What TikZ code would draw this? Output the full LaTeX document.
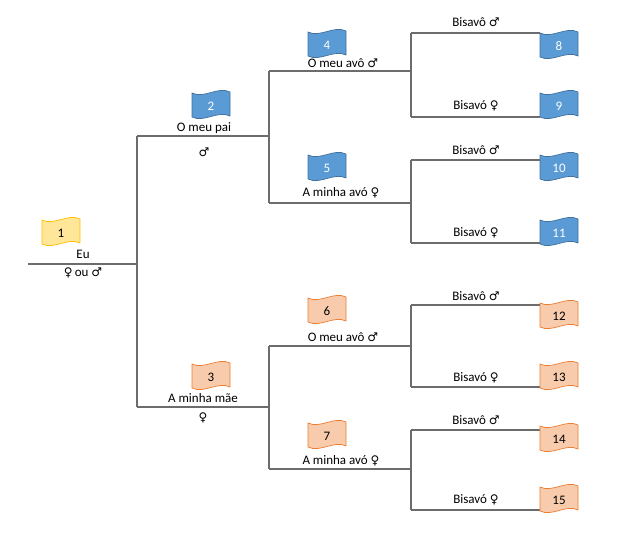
\documentclass[tikz,border=0pt]{standalone}
\usepackage{fontspec}
\setmainfont{Carlito}
\newfontfamily\symf{DejaVu Sans}
\newcommand\ma{{\symf\fontsize{12}{14}\selectfont ♂}}
\newcommand\fe{{\symf\fontsize{12}{14}\selectfont ♀}}
\definecolor{bl}{HTML}{5B9BD5}\definecolor{bld}{HTML}{41719C}
\definecolor{orf}{HTML}{F8CBAD}\definecolor{ord}{HTML}{ED7D31}
\definecolor{ylf}{HTML}{FFE699}\definecolor{yld}{HTML}{FFC000}
\tikzset{line/.style={draw=gray!85!black,line width=1.3pt},
 lab/.style={font=\fontsize{13}{15}\selectfont,inner sep=1pt},
 blue flag/.style={fill=bl,draw=bld,text=white},
 orange flag/.style={fill=orf,draw=ord,text=black},
 yellow flag/.style={fill=ylf,draw=yld,text=black}}
\newcommand\flag[4]{% name, pos, style, text
 \path[#3,line width=0.7pt] #2 ++(-19,-13) .. controls +(12,6) and +(-12,-6) .. ++(38,-1)
   -- ++(0,24) .. controls +(-12,-6) and +(12,6) .. ++(-38,1) -- cycle;
 \node[#3,draw=none,fill=none,font=\fontsize{13}{15}\selectfont] (#1) at #2 {#4};}
\begin{document}
\begin{tikzpicture}[x=1pt,y=-1pt]
\useasboundingbox (0,0) rectangle (627,533);
\coordinate (e0) at (28,264); \coordinate (e1) at (137,264);
\coordinate (pa) at (137,136); \coordinate (pb) at (269,136);
\coordinate (ma) at (137,407); \coordinate (mb) at (269,407);
\draw[line] (e0) -- (e1); \draw[line] (pa) -- (ma);
\draw[line] (pa) -- (pb); \draw[line] (ma) -- (mb);
\foreach \ya/\yb/\yc/\n in {71/33/117/a,203/160/243/b,346/305/387/c,469/430/510/d}{
 \coordinate (g\n) at (269,\ya); \coordinate (h\n) at (411,\ya);
 \coordinate (t\n) at (411,\yb); \coordinate (u\n) at (411,\yc);
 \coordinate (tt\n) at (540,\yb); \coordinate (uu\n) at (540,\yc);
 \draw[line] (g\n) -- (h\n); \draw[line] (t\n) -- (u\n);
 \draw[line] (t\n) -- (tt\n); \draw[line] (u\n) -- (uu\n);}
\draw[line] (269,71) -- (269,203);
\draw[line] (269,346) -- (269,469);
\flag{f1}{(61,233)}{yellow flag}{1}
\flag{f2}{(211,106)}{blue flag}{2}
\flag{f3}{(211,377)}{orange flag}{3}
\flag{f4}{(327,45)}{blue flag}{4}
\flag{f5}{(327,168)}{blue flag}{5}
\flag{f6}{(327,311)}{orange flag}{6}
\flag{f7}{(327,436)}{orange flag}{7}
\flag{f8}{(559,46)}{blue flag}{8}
\flag{f9}{(559,106)}{blue flag}{9}
\flag{f10}{(559,168)}{blue flag}{10}
\flag{f11}{(559,233)}{blue flag}{11}
\flag{f12}{(559,316)}{orange flag}{12}
\flag{f13}{(559,377)}{orange flag}{13}
\flag{f14}{(559,439)}{orange flag}{14}
\flag{f15}{(559,500)}{orange flag}{15}
\node[lab] (l1) at (83,254) {Eu};
\node[lab] (l1b) at (83,273) {\fe\,ou \ma};
\node[lab] (l2) at (204,128) {O meu pai};
\node[lab] (l2b) at (204,152) {\ma};
\node[lab] (l3) at (203,398) {A minha mãe};
\node[lab] (l3b) at (203,418) {\fe};
\node[lab] (l4) at (343,63) {O meu avô \ma};
\node[lab] (l5) at (341,193) {A minha avó \fe};
\node[lab] (l6) at (343,337) {O meu avô \ma};
\node[lab] (l7) at (341,461) {A minha avó \fe};
\foreach \y/\t [count=\i] in {22/m,106/f,150/m,233/f,296/m,378/f,420/m,500/f}{
 \node[lab] (b\i) at (476,\y) {\if m\t Bisavô \ma\else Bisavó \fe\fi};}
\end{tikzpicture}
\end{document}
